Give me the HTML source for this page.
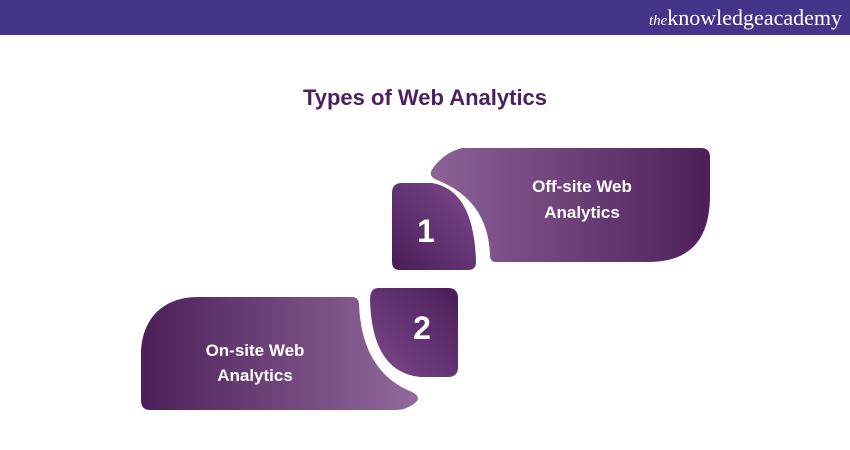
<!DOCTYPE html>
<html><head><meta charset="utf-8"><style>
html,body{margin:0;padding:0;background:#fff;width:850px;height:450px;overflow:hidden}
</style></head><body>
<svg width="850" height="450" viewBox="0 0 850 450" xmlns="http://www.w3.org/2000/svg">
<defs>
<linearGradient id="g1" x1="0" y1="0" x2="1" y2="0"><stop offset="0" stop-color="#8d6297"/><stop offset="1" stop-color="#4d1f5a"/></linearGradient>
<linearGradient id="g2" x1="0" y1="0" x2="1" y2="0"><stop offset="0" stop-color="#4d1f5a"/><stop offset="1" stop-color="#916a9b"/></linearGradient>
<linearGradient id="b1" x1="0" y1="1" x2="1" y2="0"><stop offset="0" stop-color="#4a1d57"/><stop offset="1" stop-color="#7e4a8e"/></linearGradient>
<linearGradient id="b2" x1="0" y1="1" x2="1" y2="0"><stop offset="0" stop-color="#7e4a8e"/><stop offset="1" stop-color="#4a1d57"/></linearGradient>
</defs>
<rect x="0" y="0" width="850" height="35" fill="#46348a"/>
<text x="842" y="25" text-anchor="end" font-family="Liberation Serif, serif" font-size="22" fill="#fff"><tspan font-style="italic" font-size="15">the</tspan>knowledge<tspan>academy</tspan></text>
<text x="425" y="105" text-anchor="middle" font-family="Liberation Sans, sans-serif" font-weight="bold" font-size="22" fill="#4b1f60">Types of Web Analytics</text>

<path d="M462 148 L701 148 Q710 148 710 157 L710 195 C710 240 690 262 648 262 L496 262 Q490 262 490 255 Q488 200 437 180 Q427 176 433 168 Q445 152 462 148 Z" fill="url(#g1)"/>
<path d="M402 183 L432 183 Q474 190 476 262 Q476 270 468 270 L400 270 Q392 270 392 262 L392 193 Q392 183 402 183 Z" fill="url(#b1)"/>
<text x="582" y="192" text-anchor="middle" font-family="Liberation Sans, sans-serif" font-weight="bold" font-size="17" fill="#fff">Off-site Web</text>
<text x="582" y="218" text-anchor="middle" font-family="Liberation Sans, sans-serif" font-weight="bold" font-size="17" fill="#fff">Analytics</text>
<text x="426" y="242" text-anchor="middle" font-family="Liberation Sans, sans-serif" font-weight="bold" font-size="32" fill="#fff">1</text>

<path d="M198 297 L352 297 Q359 297 359 305 Q362 372 412 392 Q424 398 412 405 Q405 410 395 410 L150 410 Q141 410 141 400 L141 355 C141 320 162 297 198 297 Z" fill="url(#g2)"/>
<path d="M378 288 L448 288 Q458 288 458 298 L458 367 Q458 377 448 377 L420 377 Q372 372 370 300 Q370 288 378 288 Z" fill="url(#b2)"/>
<text x="255" y="356" text-anchor="middle" font-family="Liberation Sans, sans-serif" font-weight="bold" font-size="17" fill="#fff">On-site Web</text>
<text x="255" y="381" text-anchor="middle" font-family="Liberation Sans, sans-serif" font-weight="bold" font-size="17" fill="#fff">Analytics</text>
<text x="422" y="339" text-anchor="middle" font-family="Liberation Sans, sans-serif" font-weight="bold" font-size="32" fill="#fff">2</text>
</svg>
</body></html>
